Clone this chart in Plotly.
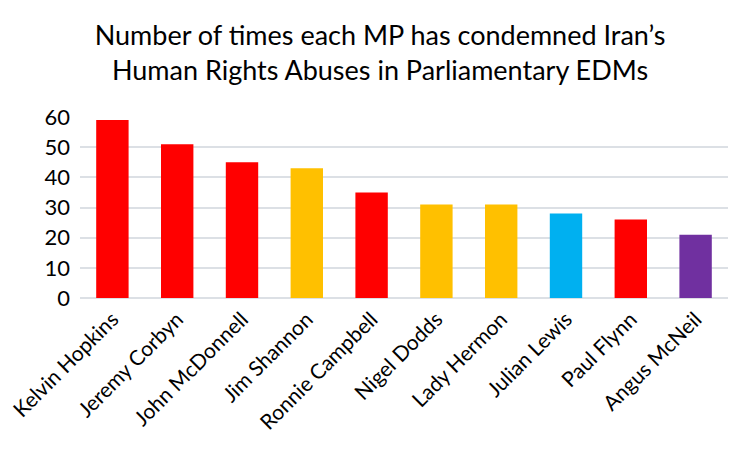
import plotly.graph_objects as go

mps = ["Kelvin Hopkins", "Jeremy Corbyn", "John McDonnell", "Jim Shannon",
       "Ronnie Campbell", "Nigel Dodds", "Lady Hermon", "Julian Lewis",
       "Paul Flynn", "Angus McNeil"]
counts = [59, 51, 45, 43, 35, 31, 31, 28, 26, 21]
party_colors = ["#FF0000", "#FF0000", "#FF0000", "#FFC000", "#FF0000",
                "#FFC000", "#FFC000", "#00B0F0", "#FF0000", "#7030A0"]
y_ticks = [0, 10, 20, 30, 40, 50, 60]

FONT = "Lato"

fig = go.Figure(go.Bar(x=mps, y=counts, marker=dict(color=party_colors, line=dict(width=0)),
                       hoverinfo="x+y"))

fig.update_layout(
    width=744, height=444,
    paper_bgcolor="white", plot_bgcolor="white",
    margin=dict(l=72, r=24, t=109, b=154, autoexpand=False),
    bargap=0.5,
    showlegend=False,
    title=dict(text="Number of times each MP has condemned Iran’s<br>Human Rights Abuses in Parliamentary EDMs",
               x=0.5, xanchor="center", xref="container", yref="container", y=0.917, yanchor="middle",
               automargin=False,
               font=dict(family=FONT, size=27, color="black")),
    font=dict(family=FONT, color="black"),
)
fig.update_xaxes(tickangle=-45, tickfont=dict(size=21, color="black"), showgrid=False,
                 showline=False, ticks="", automargin=False, ticklabelstandoff=4)
fig.update_yaxes(range=[0, 60], tickvals=y_ticks, tickfont=dict(size=22, color="black"),
                 showgrid=True, gridcolor="#DCE0E5", gridwidth=2, zeroline=True,
                 zerolinecolor="#DCE0E5", zerolinewidth=2, ticks="", ticklabelstandoff=9,
                 automargin=False)

fig.write_html("out.html")
